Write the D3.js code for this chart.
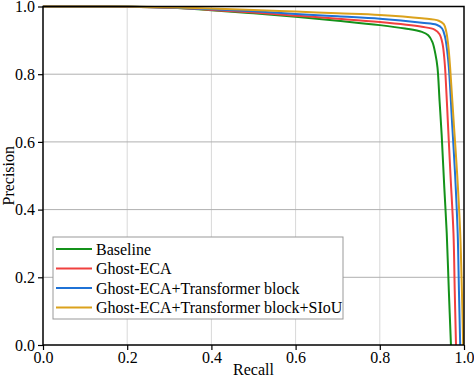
<!DOCTYPE html>
<html>
<head>
<meta charset="utf-8">
<script src="https://cdn.jsdelivr.net/npm/d3@7"></script>
<style>
  body { margin: 0; background: #fff; }
  svg { display: block; }
  svg text { font-family: "Times New Roman", "Liberation Serif", Times, serif; fill: #000; }
  .axis text { font-size: 16px; }
  .grid line.v { stroke: #d8d8d8; stroke-width: 1; }
  .grid line.h { stroke: #b0b0b0; stroke-width: 1; }
</style>
</head>
<body>
<div id="chart"></div>
<script>
// recall / precision pairs
var baseline = [[0,1.0],[0.1,1.0],[0.2,0.999],[0.3,0.996],[0.4,0.989],[0.5,0.98],[0.6,0.97],[0.7,0.958],
  [0.8,0.945],[0.86,0.935],[0.9,0.925],[0.915,0.915],[0.925,0.895],[0.932,0.86],[0.937,0.82],[0.942,0.72],
  [0.947,0.62],[0.953,0.47],[0.959,0.33],[0.964,0.16],[0.969,0.0]];
var ghostEca = [[0,1.0],[0.1,1.0],[0.2,0.999],[0.3,0.996],[0.4,0.99],[0.5,0.982],[0.6,0.973],[0.7,0.964],
  [0.8,0.954],[0.9,0.94],[0.93,0.932],[0.942,0.918],[0.949,0.89],[0.953,0.85],[0.956,0.8],[0.962,0.65],
  [0.968,0.5],[0.975,0.33],[0.978,0.16],[0.981,0.0]];
var ghostTrans = [[0,1.0],[0.1,1.0],[0.2,1.0],[0.3,0.997],[0.4,0.992],[0.5,0.986],[0.6,0.978],[0.7,0.971],
  [0.8,0.964],[0.9,0.952],[0.935,0.946],[0.948,0.935],[0.955,0.91],[0.96,0.87],[0.964,0.82],[0.972,0.65],
  [0.979,0.5],[0.985,0.33],[0.988,0.16],[0.991,0.0]];
var ghostTransSiou = [[0,1.0],[0.1,1.0],[0.2,1.0],[0.3,0.998],[0.4,0.994],[0.5,0.99],[0.6,0.985],[0.7,0.98],
  [0.8,0.975],[0.9,0.965],[0.94,0.958],[0.952,0.948],[0.958,0.925],[0.963,0.88],[0.967,0.82],[0.976,0.65],
  [0.984,0.5],[0.991,0.33],[0.995,0.16],[0.998,0.0]];

var seriesNames = ["Baseline", "Ghost-ECA", "Ghost-ECA+Transformer block", "Ghost-ECA+Transformer block+SIoU"];
var seriesValues = [baseline, ghostEca, ghostTrans, ghostTransSiou];
var seriesColors = ["#14921a", "#f0403f", "#1f72d6", "#dba21c"];
var tickValues = [0, 0.2, 0.4, 0.6, 0.8, 1.0];

var width = 474, height = 378,
    margin = {top: 6.5, right: 10, bottom: 33, left: 43};
var chartW = width - margin.left - margin.right,
    chartH = height - margin.top - margin.bottom;

var svg = d3.select('#chart').append('svg')
    .attr('width', width)
    .attr('height', height);

var g = svg.append('g')
    .attr('transform', 'translate(' + margin.left + ',' + margin.top + ')');

var x = d3.scaleLinear().domain([0, 1]).range([0, chartW]);
var y = d3.scaleLinear().domain([0, 1]).range([chartH, 0]);

// grid
var grid = g.append('g').attr('class', 'grid');
grid.selectAll('line.v').data(tickValues.slice(1, -1)).enter().append('line')
    .attr('class', 'v')
    .attr('x1', d => x(d)).attr('x2', d => x(d))
    .attr('y1', 0).attr('y2', chartH);
grid.selectAll('line.h').data(tickValues.slice(1, -1)).enter().append('line')
    .attr('class', 'h')
    .attr('y1', d => y(d)).attr('y2', d => y(d))
    .attr('x1', 0).attr('x2', chartW);

var line = d3.line()
    .x(d => x(d[0]))
    .y(d => y(d[1]))
    .curve(d3.curveCatmullRom.alpha(0.5));

g.selectAll('.curve')
  .data(seriesValues)
  .enter().append('path')
    .attr('class', 'curve')
    .attr('d', d => line(d))
    .style('fill', 'none')
    .style('stroke', (d, i) => seriesColors[i])
    .style('stroke-width', 2);

// frame
g.append('rect')
    .attr('width', chartW).attr('height', chartH)
    .style('fill', 'none').style('stroke', '#000').style('stroke-width', 1.5);

var fmt = d3.format('.1f');
g.append('g').attr('class', 'axis')
    .attr('transform', 'translate(0,' + chartH + ')')
    .call(d3.axisBottom(x).tickValues(tickValues).tickFormat(fmt).tickSizeOuter(0).tickSize(5).tickPadding(2))
    .call(a => a.select('.domain').remove());
g.append('g').attr('class', 'axis')
    .call(d3.axisLeft(y).tickValues(tickValues).tickFormat(fmt).tickSizeOuter(0).tickSize(5).tickPadding(3))
    .call(a => a.select('.domain').remove());

g.selectAll('.axis').attr('font-family', null);
g.selectAll('.axis .tick line').style('stroke', '#000').style('stroke-width', 1.2);

// axis titles
g.append('text')
    .attr('x', chartW / 2).attr('y', chartH + 30)
    .attr('text-anchor', 'middle')
    .style('font-size', '16px')
    .text('Recall');
g.append('text')
    .attr('transform', 'rotate(-90)')
    .attr('x', -chartH / 2).attr('y', -29)
    .attr('text-anchor', 'middle')
    .style('font-size', '16px')
    .text('Precision');

// legend
var legend = g.append('g').attr('transform', 'translate(' + (53 - margin.left) + ',' + (237 - margin.top) + ')');
legend.append('rect')
    .attr('width', 290).attr('height', 82)
    .style('fill', '#fff').style('stroke', '#999').style('stroke-width', 1);
var items = legend.selectAll('.item').data(seriesNames).enter().append('g')
    .attr('class', 'item')
    .attr('transform', (d, i) => 'translate(0,' + (12 + i * 19.5) + ')');
items.append('line')
    .attr('x1', 3).attr('x2', 39)
    .style('stroke', (d, i) => seriesColors[i]).style('stroke-width', 2);
items.append('text')
    .attr('x', 43).attr('dy', '0.35em')
    .style('font-size', '16px')
    .text(d => d);
</script>
</body>
</html>
